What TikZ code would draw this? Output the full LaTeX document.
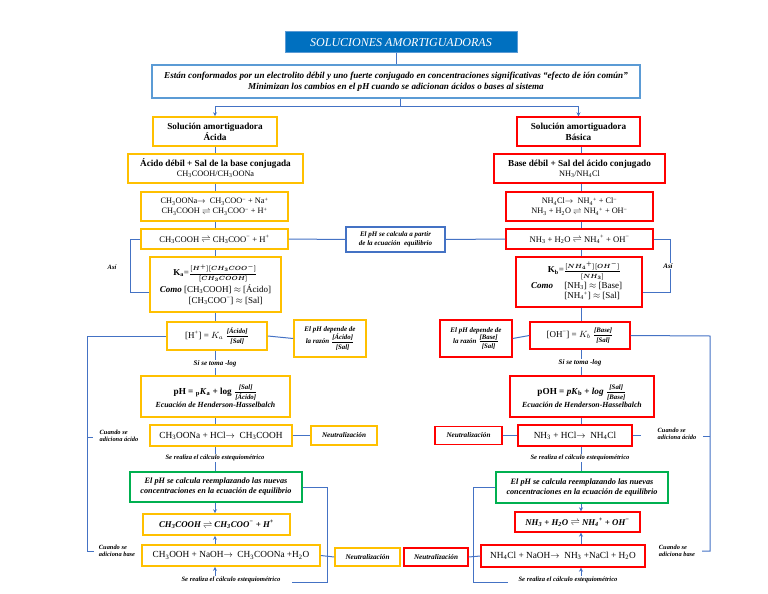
\documentclass[tikz,border=0pt]{standalone}
\usepackage{fontspec}
\setmainfont{Liberation Serif}
\usetikzlibrary{arrows.meta,calc}
\definecolor{ora}{HTML}{FFC000}
\definecolor{rd}{HTML}{FF0000}
\definecolor{bl}{HTML}{4472C4}
\definecolor{tbl}{HTML}{0070C0}
\definecolor{lbl}{HTML}{5B9BD5}
\definecolor{grn}{HTML}{00B050}
\newcommand\fs[2]{\fontsize{#1}{#2}\selectfont}
\newcommand\sub[1]{\textsubscript{#1}}
\newcommand\su[1]{\textsuperscript{#1}}
\newcommand\fr[2]{$\frac{\mbox{\fs{6.8}{7}\bfseries\itshape\rule[-1.6pt]{0pt}{1pt}#1}}{\mbox{\fs{6.8}{7}\bfseries\itshape\rule{0pt}{6.8pt}#2}}$}
\begin{document}
\begin{tikzpicture}[x=1pt,y=-1pt,
  box/.style={draw, fill=white, align=center, inner sep=0pt, font=\fs{8.3}{10}},
  obox/.style={box, draw=ora, line width=1.6pt},
  rbox/.style={box, draw=rd, line width=1.4pt},
  bbox/.style={box, draw=bl, line width=1.2pt},
  gbox/.style={box, draw=grn, line width=1.4pt},
  conn/.style={draw=bl, line width=1pt},
  arr/.style={conn, -{Stealth[length=4pt,width=4pt]}},
  lab/.style={fill=white, inner sep=1pt, align=center, font=\fs{7}{8}\bfseries\itshape},
  slab/.style={inner sep=1pt, align=left, font=\fs{6.5}{7.5}\bfseries\itshape}]
\useasboundingbox (0,0) rectangle (768,594);
\coordinate (cA) at (215,0);
\coordinate (cB) at (581,0);

% title and intro
\node[box, fill=tbl, draw=lbl, line width=1pt, minimum width=232pt, minimum height=21pt] (title) at (401,42.5)
  {\color{white}\fs{12}{14}\itshape SOLUCIONES AMORTIGUADORAS};
\node[bbox, draw=lbl, minimum width=488pt, minimum height=33pt, font=\fs{9.1}{11}\bfseries\itshape] (intro) at (396,81.5)
  {Están conformados por un electrolito débil y uno fuerte conjugado en concentraciones significativas “efecto de ión común”\\
   Minimizan los cambios en el pH cuando se adicionan ácidos o bases al sistema};

% headers
\node[obox, minimum width=124pt, minimum height=29pt, font=\fs{9.2}{11}\bfseries] (hA) at (215,131.5) {Solución amortiguadora\\Ácida};
\node[rbox, minimum width=123pt, minimum height=29pt, font=\fs{9.2}{11}\bfseries] (hB) at (578.5,131.5) {Solución amortiguadora\\Básica};

% row 2
\node[obox, minimum width=175pt, minimum height=29pt] (a2) at (215.5,168.5)
  {{\fs{9.2}{10.5}\bfseries Ácido débil + Sal de la base conjugada}\\CH\sub{3}COOH/CH\sub{3}OONa};
\node[rbox, minimum width=171pt, minimum height=29pt] (b2) at (579.5,168.5)
  {{\fs{9.2}{10.5}\bfseries Base débil + Sal del ácido conjugado}\\NH\sub{3}/NH\sub{4}Cl};

% row 3
\node[obox, minimum width=147pt, minimum height=29pt] (a3) at (214.5,206.5)
  {CH\sub{3}OONa$\rightarrow$\ \ CH\sub{3}COO\su{−} + Na\su{+}\\CH\sub{3}COOH $\rightleftharpoons$ CH\sub{3}COO\su{−} + H\su{+}};
\node[rbox, minimum width=147pt, minimum height=29pt] (b3) at (579.5,206.5)
  {NH\sub{4}Cl$\rightarrow$\ \ NH\sub{4}\su{+} + Cl\su{−}\\NH\sub{3} + H\sub{2}O $\rightleftharpoons$ NH\sub{4}\su{+} + OH\su{−}};

% row 4
\node[obox, minimum width=147pt, minimum height=20pt, font=\fs{8.6}{10}] (a4) at (214.5,239)
  {CH\sub{3}COOH $\rightleftharpoons$ CH\sub{3}COO\su{−} + H\su{+}};
\node[rbox, minimum width=147pt, minimum height=20pt, font=\fs{8.6}{10}] (b4) at (579.5,239)
  {NH\sub{3} + H\sub{2}O $\rightleftharpoons$ NH\sub{4}\su{+} + OH\su{−}};
\node[bbox, minimum width=99pt, minimum height=25pt, font=\fs{7}{8.5}\bfseries\itshape] (mid) at (395.5,239.5)
  {El pH se calcula a partir\\de la ecuación\ \ equilibrio};

% K boxes
\node[obox, minimum width=131pt, minimum height=55pt, font=\fs{9}{11}] (aK) at (215.5,284.5)
  {\textbf{K\sub{a}}={\fs{6}{7}\boldmath$\displaystyle\frac{[H^+][CH_3COO^-]}{[CH_3COOH]}$}\\[1pt]
   \textbf{\textit{Como}} [CH\sub{3}COOH] $\approx$ [Ácido]\\\ \ \ \ \ \ \ \ \ [CH\sub{3}COO\su{−}] $\approx$ [Sal]};
\node[rbox, minimum width=126pt, minimum height=50pt, font=\fs{9}{10.5}] (bK) at (579,282)
  {\begin{tabular}{@{}l@{\quad\ }l@{}}
   \multicolumn{2}{c}{\hspace{1.2em}\textbf{K\sub{b}}={\fs{6}{7}\boldmath$\displaystyle\frac{[NH_4{}^{+}][OH^-]}{[NH_3]}$}}\\[5pt]
   \textbf{\textit{Como}} & [NH\sub{3}] $\approx$ [Base]\\
   & [NH\sub{4}\su{+}] $\approx$ [Sal]
   \end{tabular}};

% H+ / OH- boxes
\node[obox, minimum width=100pt, minimum height=28pt, font=\fs{9}{10}] (aH) at (217,336)
  {[H\su{+}] = $K_a$ \fr{[Ácido]}{[Sal]}};
\node[obox, minimum width=72pt, minimum height=37pt, font=\fs{7}{9}\bfseries\itshape] (aS) at (330,338.5)
  {El pH depende de\\la razón \fr{[Ácido]}{[Sal]}};
\node[rbox, minimum width=100pt, minimum height=27pt, font=\fs{9}{10}] (bH) at (580,335.5)
  {[OH\su{−}] = $K_b$ \fr{[Base]}{[Sal]}};
\node[rbox, minimum width=72pt, minimum height=37pt, font=\fs{7}{9}\bfseries\itshape] (bS) at (476,338.5)
  {El pH depende de\\la razón \fr{[Base]}{[Sal]}};

% Henderson boxes
\node[obox, minimum width=149pt, minimum height=41pt, font=\fs{9.2}{11}] (apH) at (215.5,396.5)
  {\textbf{pH = \textsubscript{p}\textit{K}\sub{a} + log} \fr{[Sal]}{[Ácido]}\\[1pt]{\fs{7.8}{9}\bfseries\itshape Ecuación de Henderson-Hasselbalch}};
\node[rbox, minimum width=144pt, minimum height=41pt, font=\fs{9.2}{11}] (bpH) at (582,396.5)
  {\textbf{pOH = \textit{pK}\sub{b} + \textit{log}} \fr{[Sal]}{[Base]}\\[1pt]{\fs{7.8}{9}\bfseries\itshape Ecuación de Henderson-Hasselbalch}};

% neutralisation with acid
\node[obox, minimum width=142pt, minimum height=21pt, font=\fs{9.3}{10}] (aN) at (221,435.5)
  {CH\sub{3}OONa + HCl$\rightarrow$\ \ CH\sub{3}COOH};
\node[obox, minimum width=66pt, minimum height=19pt, font=\fs{7.2}{8}\bfseries\itshape] (aNs) at (344,435.5) {Neutralización};
\node[rbox, minimum width=114pt, minimum height=21pt, font=\fs{9.3}{10}] (bN) at (575,435.5)
  {NH\sub{3} + HCl$\rightarrow$\ \ NH\sub{4}Cl};
\node[rbox, minimum width=67pt, minimum height=18pt, font=\fs{7.2}{8}\bfseries\itshape] (bNs) at (468.5,435.5) {Neutralización};

% green boxes
\node[gbox, minimum width=172pt, minimum height=30pt, font=\fs{8.2}{10}\bfseries\itshape] (aG) at (216,487)
  {El pH se calcula reemplazando las nuevas\\concentraciones en la ecuación de equilibrio};
\node[gbox, minimum width=172pt, minimum height=31pt, font=\fs{8.2}{10}\bfseries\itshape] (bG) at (582,487.5)
  {El pH se calcula reemplazando las nuevas\\concentraciones en la ecuación de equilibrio};

% equilibrium again
\node[obox, minimum width=147pt, minimum height=21pt, font=\fs{8.8}{10}\bfseries\itshape] (aE) at (216.5,524.5)
  {CH\sub{3}COOH $\rightleftharpoons$ CH\sub{3}COO\su{−} + H\su{+}};
\node[rbox, minimum width=125pt, minimum height=20pt, font=\fs{8.8}{10}\bfseries\itshape] (bE) at (577.5,522)
  {NH\sub{3} + H\sub{2}O $\rightleftharpoons$ NH\sub{4}\su{+} + OH\su{−}};

% neutralisation with base
\node[obox, minimum width=178pt, minimum height=21pt, font=\fs{9.3}{10}] (aB) at (231,555.5)
  {CH\sub{3}OOH + NaOH$\rightarrow$\ \ CH\sub{3}COONa +H\sub{2}O};
\node[rbox, minimum width=164pt, minimum height=22pt, font=\fs{9.3}{10}] (bB) at (563,556)
  {NH\sub{4}Cl + NaOH$\rightarrow$\ \ NH\sub{3} +NaCl + H\sub{2}O};
\node[obox, minimum width=65pt, minimum height=18pt, font=\fs{7.2}{8}\bfseries\itshape] (aBs) at (367.5,557) {Neutralización};
\node[rbox, minimum width=64pt, minimum height=18pt, font=\fs{7.2}{8}\bfseries\itshape] (bBs) at (436,557) {Neutralización};

% ---------- connectors ----------
\draw[conn] (title.south -| intro.north) -- (intro.north);
\coordinate (split) at (400,106);
\draw[conn] (intro.south -| split) -- (split);
\draw[arr] (split) -| (hA.north);
\draw[arr] (split) -| (hB.north);

\foreach \u/\v in {hA/a2,a2/a3,a3/a4,a4/aK,aK/aH,aH/apH,apH/aN,aN/aG}
  \draw[conn] (\u.south -| cA) -- (\v.north -| cA);
\foreach \u/\v in {hB/b2,b2/b3,b3/b4,b4/bK,bK/bH,bH/bpH,bpH/bN,bN/bG}
  \draw[conn] (\u.south -| cB) -- (\v.north -| cB);
\draw[arr] (aG.south -| cA) -- (aE.north -| cA);
\draw[arr] (bG.south -| cB) -- (bE.north -| cB);
\draw[arr] (aB.north -| cA) -- (aE.south -| cA);
\draw[arr] (bB.north -| cB) -- (bE.south -| cB);

\draw[conn] (a4.east) -- (mid.west);
\draw[conn] (mid.east) -- (b4.west);
\draw[conn] (aH.east) -- (aS.west);
\draw[conn] (bS.east) -- (bH.west);
\draw[conn] (aN.east) -- (aNs.west);
\draw[conn] (bNs.east) -- (bN.west);
\draw[conn] (aB.east) -- (aBs.west);
\draw[conn] (bBs.east) -- (bB.west);

% Así brackets
\draw[conn] (a4.west) -- (130,239) -- (130,292) -- ($(aK.west)+(0,7.5)$);
\draw[conn] (b4.east) -- (670,239) -- (670,292) -- ($(bK.east)+(0,10)$);

% long brackets
\draw[conn] (aH.west) -- (87,336) -- (87,551) -- (94,551);
\draw[conn] (87,437) -- (93,437);
\draw[conn] (bH.east) -- (710,336) -- (710,551) -- (702,551);
\draw[conn] (710,436) -- (703,436);
\draw[conn] (bN.east) -- ++(8,0);

% green brackets
\draw[conn] (aG.east) -- (327,487) -- (327,582) -- (292,582);
\draw[conn] (bG.west) -- (473,487.5) -- (473,582) -- (508,582);

% ---------- labels ----------
\node[slab] (asiA) at (112,267) {Así};
\node[lab] (asiB) at (668,266) {Así};
\node[lab] (tlA) at (215,364) {Si se toma -log};
\node[lab] (tlB) at (580,363) {Si se toma -log};
\node[slab, font=\fs{6.4}{7.4}\bfseries\itshape] (caA) at (119,436) {Cuando se\\adiciona ácido};
\node[slab, font=\fs{6.4}{7.4}\bfseries\itshape] (caB) at (677,434) {Cuando se\\adiciona ácido};
\node[lab, font=\fs{6.6}{7.5}\bfseries\itshape] (seA) at (215,458) {Se realiza el cálculo estequiométrico};
\node[lab, font=\fs{6.6}{7.5}\bfseries\itshape] (seB) at (580,458) {Se realiza el cálculo estequiométrico};
\node[slab, font=\fs{6.4}{7.4}\bfseries\itshape] (cbA) at (117,551) {Cuando se\\adiciona base};
\node[slab, font=\fs{6.4}{7.4}\bfseries\itshape] (cbB) at (677,551) {Cuando se\\adiciona base};
\node[lab, font=\fs{6.6}{7.5}\bfseries\itshape] (seA2) at (231,580) {Se realiza el cálculo estequiométrico};
\node[lab, font=\fs{6.6}{7.5}\bfseries\itshape] (seB2) at (568,580) {Se realiza el cálculo estequiométrico};
\draw[arr] (seA2.north -| cA) -- (aB.south -| cA);
\draw[arr] (seB2.north -| cB) -- (bB.south -| cB);
\end{tikzpicture}
\end{document}
